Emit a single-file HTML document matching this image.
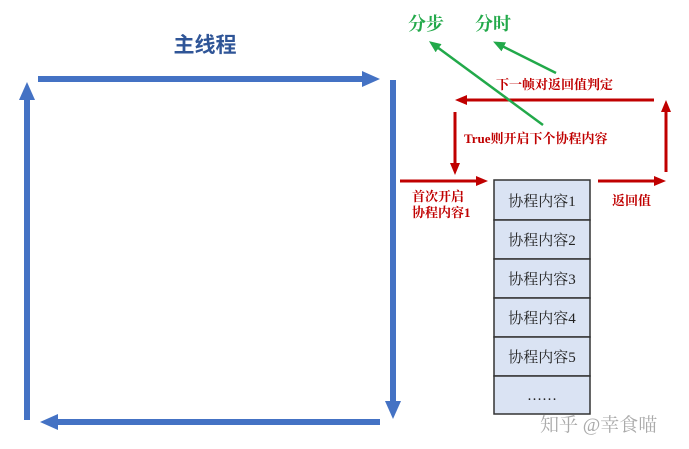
<!DOCTYPE html>
<html><head><meta charset="utf-8"><style>
body{margin:0;background:#fff}
svg{display:block}
text{font-family:"Liberation Serif","Noto Serif CJK SC","Noto Sans CJK SC",serif}
.b{font-family:"Liberation Sans","Noto Sans CJK SC",sans-serif;font-weight:bold}
</style></head><body>
<svg width="689" height="449" viewBox="0 0 689 449" xmlns="http://www.w3.org/2000/svg">
<defs>
<marker id="ab" markerWidth="18" markerHeight="18" refX="4" refY="9" orient="auto" markerUnits="userSpaceOnUse"><path d="M0,1 L18,9 L0,17z" fill="#4472c4"/></marker>
<marker id="ar" markerWidth="12" markerHeight="12" refX="2" refY="6" orient="auto" markerUnits="userSpaceOnUse"><path d="M0,1 L12,6 L0,11z" fill="#c00000"/></marker>
<marker id="ag" markerWidth="12" markerHeight="12" refX="2" refY="6" orient="auto" markerUnits="userSpaceOnUse"><path d="M0,1 L12,6 L0,11z" fill="#22a94a"/></marker>
</defs>
<text x="205" y="52" class="b" font-size="21" fill="#2f5597" text-anchor="middle">主线程</text>
<g stroke="#4472c4" stroke-width="6" fill="none">
<line x1="38" y1="79" x2="366" y2="79" marker-end="url(#ab)"/>
<line x1="393" y1="80" x2="393" y2="405" marker-end="url(#ab)"/>
<line x1="380" y1="422" x2="54" y2="422" marker-end="url(#ab)"/>
<line x1="27" y1="420" x2="27" y2="96" marker-end="url(#ab)"/>
</g>
<g fill="#dae3f3" stroke="#333" stroke-width="1.5">
<rect x="494" y="180" width="96" height="40"/><rect x="494" y="220" width="96" height="39"/>
<rect x="494" y="259" width="96" height="39"/><rect x="494" y="298" width="96" height="39"/>
<rect x="494" y="337" width="96" height="39"/><rect x="494" y="376" width="96" height="38"/>
</g>
<g font-size="15" fill="#222" text-anchor="middle">
<text x="542" y="206">协程内容1</text><text x="542" y="245">协程内容2</text>
<text x="542" y="284">协程内容3</text><text x="542" y="323">协程内容4</text>
<text x="542" y="362">协程内容5</text><text x="542" y="400">……</text>
</g>
<g stroke="#c00000" stroke-width="3" fill="none">
<line x1="400" y1="181" x2="478" y2="181" marker-end="url(#ar)"/>
<line x1="598" y1="181" x2="656" y2="181" marker-end="url(#ar)"/>
<line x1="666" y1="172" x2="666" y2="110" marker-end="url(#ar)"/>
<line x1="654" y1="100" x2="465" y2="100" marker-end="url(#ar)"/>
<line x1="455" y1="112" x2="455" y2="165" marker-end="url(#ar)"/>
</g>
<g class="b" font-size="13" fill="#c00000">
<text x="496" y="89">下一帧对返回值判定</text>
<text x="464" y="143">True则开启下个协程内容</text>
<text x="412" y="201">首次开启</text>
<text x="412" y="217">协程内容1</text>
<text x="612" y="205">返回值</text>
</g>
<g stroke="#22a94a" stroke-width="2.5" fill="none">
<line x1="556" y1="73" x2="502" y2="46" marker-end="url(#ag)"/>
<line x1="543" y1="125" x2="437" y2="47" marker-end="url(#ag)"/>
</g>
<g class="b" font-size="18" fill="#22a94a">
<text x="408" y="30">分步</text><text x="475" y="30">分时</text>
</g>
<text x="540" y="431" font-size="19" fill="#aaa" font-family="Liberation Sans,Noto Sans CJK SC,sans-serif">知乎 @幸食喵</text>
</svg>
</body></html>
